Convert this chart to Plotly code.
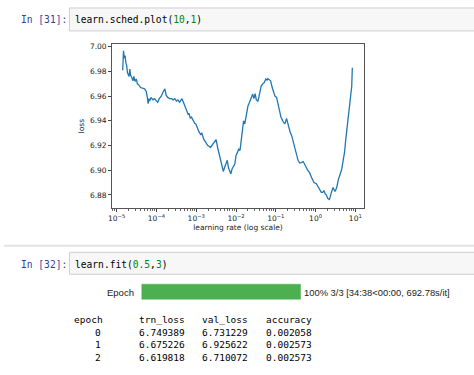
import plotly.graph_objects as go

W, H = 474, 375

# ---- data ----
lr_log = [-4.85, -4.83, -4.81, -4.79, -4.77, -4.75, -4.73, -4.71, -4.69, -4.67, -4.65, -4.62,
          -4.59, -4.57, -4.54, -4.51, -4.48, -4.44, -4.40, -4.30, -4.26, -4.23, -4.21, -4.19,
          -4.17, -4.14, -4.09, -4.05, -4.01, -3.97, -3.93, -3.88, -3.84, -3.79, -3.76, -3.72,
          -3.67, -3.62, -3.58, -3.54, -3.50, -3.46, -3.42, -3.38, -3.36, -3.31, -3.27, -3.23,
          -3.20, -3.18, -3.15, -3.12, -3.08, -3.04, -3.01, -2.97, -2.93, -2.89, -2.86, -2.81,
          -2.76, -2.71, -2.64, -2.59, -2.55, -2.50, -2.46, -2.42, -2.38, -2.35, -2.32, -2.29,
          -2.27, -2.24, -2.22, -2.19, -2.16, -2.13, -2.10, -2.07, -2.03, -2.00, -1.97, -1.93,
          -1.90, -1.87, -1.84, -1.81, -1.78, -1.74, -1.70, -1.66, -1.62, -1.58, -1.55, -1.52,
          -1.49, -1.45, -1.42, -1.37, -1.33, -1.29, -1.25, -1.22, -1.20, -1.16, -1.13, -1.09,
          -1.05, -1.02, -0.98, -0.95, -0.92, -0.87, -0.81, -0.77, -0.73, -0.69, -0.64, -0.60,
          -0.54, -0.49, -0.44, -0.40, -0.37, -0.31, -0.27, -0.23, -0.20, -0.15, -0.10, -0.07,
          -0.04, 0.02, 0.05, 0.08, 0.11, 0.145, 0.18, 0.21, 0.24, 0.27, 0.31, 0.35, 0.39, 0.42,
          0.44, 0.47, 0.49, 0.52, 0.54, 0.57, 0.60, 0.63, 0.66, 0.70, 0.73, 0.76, 0.79, 0.82,
          0.85, 0.88, 0.91, 0.925]
loss = [6.981, 6.9968, 6.991, 6.993, 6.987, 6.985, 6.979, 6.978, 6.976, 6.982, 6.977, 6.975,
        6.9725, 6.976, 6.972, 6.974, 6.970, 6.969, 6.967, 6.966, 6.964, 6.959, 6.954, 6.958,
        6.956, 6.959, 6.957, 6.958, 6.956, 6.955, 6.958, 6.960, 6.963, 6.966, 6.961, 6.959,
        6.958, 6.958, 6.957, 6.958, 6.956, 6.957, 6.955, 6.957, 6.958, 6.954, 6.951, 6.947,
        6.945, 6.946, 6.942, 6.943, 6.940, 6.938, 6.9375, 6.934, 6.931, 6.929, 6.930, 6.925,
        6.922, 6.920, 6.9186, 6.921, 6.922, 6.9248, 6.918, 6.912, 6.907, 6.901, 6.899, 6.902,
        6.904, 6.906, 6.908, 6.902, 6.8985, 6.897, 6.901, 6.903, 6.905, 6.912, 6.9146, 6.917,
        6.916, 6.9226, 6.932, 6.940, 6.9375, 6.947, 6.952, 6.955, 6.958, 6.9617, 6.958, 6.962,
        6.957, 6.956, 6.960, 6.968, 6.970, 6.971, 6.974, 6.973, 6.9744, 6.9735, 6.9725, 6.967,
        6.962, 6.960, 6.959, 6.955, 6.951, 6.943, 6.939, 6.9375, 6.942, 6.936, 6.931, 6.928,
        6.920, 6.913, 6.908, 6.906, 6.906, 6.907, 6.905, 6.902, 6.900, 6.898, 6.894, 6.892,
        6.890, 6.889, 6.887, 6.885, 6.884, 6.882, 6.882, 6.8835, 6.881, 6.880, 6.877, 6.8762,
        6.881, 6.884, 6.886, 6.884, 6.8827, 6.885, 6.887, 6.892, 6.8957, 6.899, 6.901, 6.909,
        6.9146, 6.925, 6.9334, 6.942, 6.9496, 6.955, 6.968, 6.983]
lr = [10 ** v for v in lr_log]

x_ticks = [1e-5, 1e-4, 1e-3, 1e-2, 1e-1, 1, 10]
x_tick_text = ["10<sup>−5</sup>", "10<sup>−4</sup>", "10<sup>−3</sup>", "10<sup>−2</sup>",
               "10<sup>−1</sup>", "10<sup>0</sup>", "10<sup>1</sup>"]
y_ticks = [6.88, 6.90, 6.92, 6.94, 6.96, 6.98, 7.00]

epochs = ["0", "1", "2"]
trn_loss = ["6.749389", "6.675226", "6.619818"]
val_loss = ["6.731229", "6.925622", "6.710072"]
accuracy = ["0.002058", "0.002573", "0.002573"]
headers = ["epoch", "trn_loss", "val_loss", "accuracy"]

progress_text = "100% 3/3 [34:38<00:00, 692.78s/it]"


def px(x):
    return x / W


def py(y):
    return 1 - y / H


MONO = "DejaVu Sans Mono"
SANS = "Liberation Sans"
DV = "DejaVu Sans"

fig = go.Figure()
fig.add_trace(go.Scatter(x=lr, y=loss, mode="lines",
                         line=dict(color="#1f77b4", width=1.3), showlegend=False))

minor_vals = [k * 10 ** e for e in range(-6, 2) for k in range(2, 10)]

fig.update_layout(
    width=W, height=H, margin=dict(l=0, r=0, t=0, b=0),
    paper_bgcolor="white", plot_bgcolor="white",
    xaxis=dict(type="log", domain=[px(109), px(363)], range=[-5.117, 1.217],
               tickvals=x_ticks, ticktext=x_tick_text, ticks="outside", ticklen=3,
               tickcolor="#444", showgrid=False, zeroline=False,
               showline=True, mirror=True, linecolor="#555", linewidth=1,
               tickfont=dict(family=DV, size=7.5, color="#222"),
               minor=dict(tickvals=minor_vals, ticks="outside", ticklen=1.8, tickcolor="#666",
                          showgrid=False),
               title=dict(text="learning rate (log scale)", standoff=2,
                          font=dict(family=DV, size=7.5, color="#222"))),
    yaxis=dict(domain=[py(208), py(43)], range=[6.869, 7.0024],
               tickvals=y_ticks, tickformat=".2f", ticks="outside", ticklen=3,
               tickcolor="#444", showgrid=False, zeroline=False,
               showline=True, mirror=True, linecolor="#555", linewidth=1,
               tickfont=dict(family=DV, size=7.5, color="#222"),
               title=dict(text="loss", standoff=4,
                          font=dict(family=DV, size=7.5, color="#222"))),
)

shapes = []
ann = []

# cell 31
shapes.append(dict(type="rect", xref="paper", yref="paper", x0=px(66), x1=px(476),
                   y0=py(30), y1=py(7), fillcolor="#f7f7f7", line=dict(color="#cfcfcf", width=1)))
ann.append(dict(x=px(16), y=py(19), text="In [31]:", xanchor="left", yanchor="middle",
                font=dict(family=MONO, size=9.6, color="#303F9F")))
ann.append(dict(x=px(71), y=py(19),
                text='learn.sched.plot(<span style="color:#080">10</span>,<span style="color:#080">1</span>)',
                xanchor="left", yanchor="middle", font=dict(family=MONO, size=9.6, color="#000")))

# separator
shapes.append(dict(type="rect", xref="paper", yref="paper", x0=0, x1=1,
                   y0=py(246.5), y1=py(244.5), fillcolor="#e3e3e3", line=dict(width=0)))

# cell 32
shapes.append(dict(type="rect", xref="paper", yref="paper", x0=px(66), x1=px(476),
                   y0=py(274), y1=py(252), fillcolor="#f7f7f7", line=dict(color="#cfcfcf", width=1)))
ann.append(dict(x=px(16), y=py(264), text="In [32]:", xanchor="left", yanchor="middle",
                font=dict(family=MONO, size=9.6, color="#303F9F")))
ann.append(dict(x=px(71), y=py(264),
                text='learn.fit(<span style="color:#080">0.5</span>,<span style="color:#080">3</span>)',
                xanchor="left", yanchor="middle", font=dict(family=MONO, size=9.6, color="#000")))

# progress bar
ann.append(dict(x=px(132), y=py(292), text="Epoch", xanchor="right", yanchor="middle",
                font=dict(family=SANS, size=9.5, color="#222")))
shapes.append(dict(type="rect", xref="paper", yref="paper", x0=px(139), x1=px(299),
                   y0=py(299), y1=py(284), fillcolor="#4CAF50", line=dict(color="#4aa84e", width=0.5)))
ann.append(dict(x=px(302), y=py(292), text=progress_text.replace("<", "&lt;"),
                xanchor="left", yanchor="middle",
                font=dict(family=SANS, size=9.4, color="#222")))

# table
col_x = [70, 135, 199, 263]
for cx, h in zip(col_x, headers):
    ann.append(dict(x=px(cx), y=py(319), text=h, xanchor="left", yanchor="middle",
                    font=dict(family=MONO, size=9.5, color="#000")))
row_y = [332, 344.5, 357]
for ry, e, a, b, c in zip(row_y, epochs, trn_loss, val_loss, accuracy):
    ann.append(dict(x=px(99), y=py(ry), text=e, xanchor="right", yanchor="middle",
                    font=dict(family=MONO, size=9.5, color="#000")))
    for cx, v in zip(col_x[1:], [a, b, c]):
        ann.append(dict(x=px(cx), y=py(ry), text=v, xanchor="left", yanchor="middle",
                        font=dict(family=MONO, size=9.5, color="#000")))

for a in ann:
    a.update(xref="paper", yref="paper", showarrow=False, borderpad=0)

fig.update_layout(shapes=shapes, annotations=ann)
fig.write_html("out.html")
